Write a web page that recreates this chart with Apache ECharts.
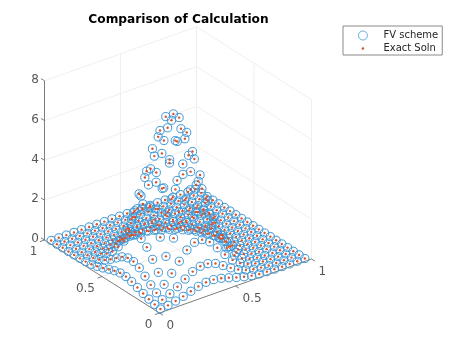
<!DOCTYPE html>
<html>
<head>
<meta charset="utf-8">
<style>html,body{margin:0;padding:0;background:#fff}#c{width:474px;height:353px}</style>
<script src="https://cdn.jsdelivr.net/npm/echarts@6/dist/echarts.min.js"></script>
</head>
<body>
<div id="c"></div>
<script>
// cell-centre coordinates
const xCells = [0.025,0.075,0.125,0.175,0.225,0.275,0.325,0.375,0.425,0.475,0.525,0.575,0.625,0.675,0.725,0.775,0.825,0.875,0.925,0.975];
const yCells = [0.025,0.075,0.125,0.175,0.225,0.275,0.325,0.375,0.425,0.475,0.525,0.575,0.625,0.675,0.725,0.775,0.825,0.875,0.925,0.975];
// solution height, one row per yCells entry
const zExact = [
[0.04,0.09,0.17,0.27,0.39,0.50,0.57,0.57,0.50,0.39,0.27,0.17,0.09,0.04,0.02,0.01,0,0,0,0],
[0.09,0.19,0.35,0.57,0.82,1.06,1.19,1.19,1.06,0.82,0.57,0.35,0.19,0.09,0.04,0.01,0,0,0,0],
[0.17,0.35,0.64,1.06,1.53,1.96,2.21,2.21,1.96,1.53,1.06,0.64,0.35,0.17,0.07,0.03,0.01,0,0,0],
[0.27,0.57,1.06,1.73,2.51,3.21,3.63,3.63,3.21,2.51,1.73,1.06,0.57,0.27,0.11,0.04,0.01,0,0,0],
[0.39,0.82,1.53,2.51,3.63,4.64,5.26,5.26,4.64,3.63,2.51,1.53,0.82,0.39,0.17,0.06,0.02,0.01,0,0],
[0.50,1.06,1.96,3.21,4.64,5.95,6.73,6.73,5.95,4.64,3.21,1.96,1.06,0.50,0.21,0.08,0.03,0.01,0,0],
[0.57,1.19,2.21,3.63,5.26,6.73,7.61,7.61,6.73,5.26,3.63,2.21,1.19,0.57,0.24,0.09,0.03,0.01,0,0],
[0.57,1.19,2.21,3.63,5.26,6.73,7.61,7.61,6.73,5.26,3.63,2.21,1.19,0.57,0.24,0.09,0.03,0.01,0,0],
[0.50,1.06,1.96,3.21,4.64,5.95,6.73,6.73,5.95,4.64,3.21,1.96,1.06,0.50,0.21,0.08,0.03,0.01,0,0],
[0.39,0.82,1.53,2.51,3.63,4.64,5.26,5.26,4.64,3.63,2.51,1.53,0.82,0.39,0.17,0.06,0.02,0.01,0,0],
[0.27,0.57,1.06,1.73,2.51,3.21,3.63,3.63,3.21,2.51,1.73,1.06,0.57,0.27,0.11,0.04,0.01,0,0,0],
[0.17,0.35,0.64,1.06,1.53,1.96,2.21,2.21,1.96,1.53,1.06,0.64,0.35,0.17,0.07,0.03,0.01,0,0,0],
[0.09,0.19,0.35,0.57,0.82,1.06,1.19,1.19,1.06,0.82,0.57,0.35,0.19,0.09,0.04,0.01,0,0,0,0],
[0.04,0.09,0.17,0.27,0.39,0.50,0.57,0.57,0.50,0.39,0.27,0.17,0.09,0.04,0.02,0.01,0,0,0,0],
[0.02,0.04,0.07,0.11,0.17,0.21,0.24,0.24,0.21,0.17,0.11,0.07,0.04,0.02,0.01,0,0,0,0,0],
[0.01,0.01,0.03,0.04,0.06,0.08,0.09,0.09,0.08,0.06,0.04,0.03,0.01,0.01,0,0,0,0,0,0],
[0,0,0.01,0.01,0.02,0.03,0.03,0.03,0.03,0.02,0.01,0.01,0,0,0,0,0,0,0,0],
[0,0,0,0,0.01,0.01,0.01,0.01,0.01,0.01,0,0,0,0,0,0,0,0,0,0],
[0,0,0,0,0,0,0,0,0,0,0,0,0,0,0,0,0,0,0,0],
[0,0,0,0,0,0,0,0,0,0,0,0,0,0,0,0,0,0,0,0]
];
const zFV = zExact;
const xTicks = [0,0.5,1];
const yTicks = [0,0.5,1];
const zTicks = [0,2,4,6,8];
const zMax = 8;

// orthographic view of the unit box
const VIEW = {xh:152, yh:-115, xv:54, yv:73, zv:19.9};
const project = (x,y,z)=>[VIEW.xh*x+VIEW.yh*y, VIEW.xv*x+VIEW.yv*y+VIEW.zv*z];

const FONT = 'DejaVu Sans';
const BLUE = '#3f98d6', RED = '#d4532e', GRID = '#ebebeb', AXIS = '#6e6e6e', TEXT = '#2b2b2b';

function seg(a,b,color,width){
  return {type:'line',silent:true,showSymbol:false,symbol:'none',clip:false,animation:false,z:1,
    data:[project(...a),project(...b)],lineStyle:{color,width},tooltip:{show:false}};
}
const series = [];
// back-wall and floor grid
zTicks.forEach(z=>{
  series.push(seg([0,1,z],[1,1,z],GRID,0.8));
  series.push(seg([1,1,z],[1,0,z],GRID,0.8));
});
[0,0.5,1].forEach(x=>{ if(x>0) series.push(seg([x,1,0],[x,1,zMax],GRID,0.8)); });
[0,0.5].forEach(y=>series.push(seg([1,y,0],[1,y,zMax],GRID,0.8)));
series.push(seg([0.5,0,0],[0.5,1,0],GRID,0.8));
series.push(seg([0,0.5,0],[1,0.5,0],GRID,0.8));
// axis rulers and ticks
series.push(seg([0,0,0],[1,0,0],AXIS,0.9));
series.push(seg([0,0,0],[0,1,0],AXIS,0.9));
series.push(seg([0,1,0],[0,1,zMax],AXIS,0.9));
xTicks.forEach(x=>series.push(seg([x,0,0],[x,-0.03,0],AXIS,0.9)));
yTicks.forEach(y=>series.push(seg([0,y,0],[-0.03,y,0],AXIS,0.9)));
zTicks.forEach(z=>series.push(seg([0,1,z],[0,1.03,z],AXIS,0.9)));

// tick labels
function labels(points,align,offset){
  return {type:'scatter',silent:true,symbolSize:0,clip:false,animation:false,z:3,
    data:points.map(p=>({value:project(p[0],p[1],p[2]),name:p[3]})),
    label:{show:true,position:'inside',align,verticalAlign:'middle',offset,
      formatter:q=>q.name,fontFamily:FONT,fontSize:12,color:TEXT},tooltip:{show:false}};
}
series.push(labels(xTicks.map(t=>[t,0,0,String(t)]),'left',[7,12.5]));
series.push(labels(yTicks.map(t=>[0,t,0,String(t)]),'right',[-7,12.2]));
series.push(labels(zTicks.map(t=>[0,1,t,String(t)]),'right',[-5.5,-1]));

// the two point clouds
function cloud(table){
  const out=[];
  yCells.forEach((y,j)=>xCells.forEach((x,i)=>out.push(project(x,y,table[j][i]))));
  return out;
}
series.push({name:'FV scheme',type:'scatter',data:cloud(zFV),symbol:'circle',symbolSize:8.2,clip:false,animation:false,z:4,
  itemStyle:{color:'rgba(0,0,0,0)',borderColor:BLUE,borderWidth:1,opacity:1}});
series.push({name:'Exact Soln',type:'scatter',data:cloud(zExact),symbol:'circle',symbolSize:2.4,clip:false,animation:false,z:5,
  itemStyle:{color:RED,opacity:1}});

const option = {
  animation:false,
  backgroundColor:'#fff',
  title:{text:'Comparison of Calculation',left:173.5,top:8.5,textAlign:'center',
    textStyle:{fontFamily:FONT,fontWeight:'bold',fontSize:12.2,color:'#000'}},
  legend:{
    left:343,top:26,orient:'vertical',align:'left',selectedMode:false,
    padding:[4.5,4,1.5,15],itemGap:3,itemWidth:31,itemHeight:9,
    borderColor:'#8a8a8a',borderWidth:1,backgroundColor:'#fff',
    textStyle:{fontFamily:FONT,fontSize:10,color:'#262626',padding:[0,0,0,0]},
    data:[
      {name:'FV scheme',icon:'circle',itemStyle:{color:'rgba(0,0,0,0)',borderColor:BLUE,borderWidth:0.8}},
      {name:'Exact Soln',icon:'path://M0,0M9,9M3.2,4.5a1.3,1.3 0 1,0 2.6,0a1.3,1.3 0 1,0 -2.6,0z',itemStyle:{color:RED,borderWidth:0}}
    ]
  },
  grid:{left:0,right:0,top:0,bottom:0},
  xAxis:{type:'value',min:-159.5,max:314.5,show:false},
  yAxis:{type:'value',min:-40,max:313,show:false},
  series
};
const chart = echarts.init(document.getElementById('c'),null,{renderer:'canvas'});
chart.setOption(option);
</script>
</body>
</html>
